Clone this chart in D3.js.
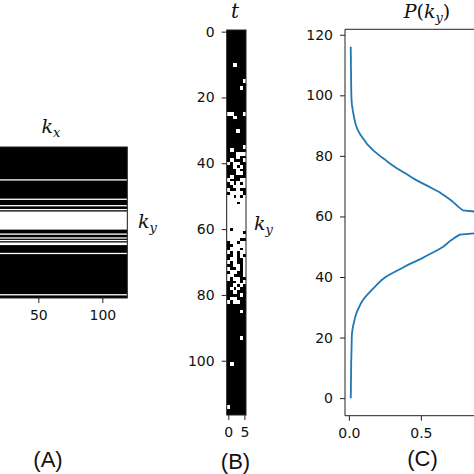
<!DOCTYPE html>
<html>
<head>
<meta charset="utf-8">
<script src="https://cdn.jsdelivr.net/npm/d3@7"></script>
<style>
html,body{margin:0;padding:0;background:#fff;}
svg{display:block;}
</style>
</head>
<body>
<svg id="chart" width="474" height="474"></svg>
<script>
// ---- data ----
// ky index 0..116
const kyCount = 117;
const kxCount = 120;
// sampling mask, one string per ky row, one char per time step t = 0..5 (1 = sampled/white)
const maskRows = [
"000000","000000","000000","000000","000000","000000","000000","000000","000000","000000", // 0-9
"001000","000000","000000","000000","000000","000001","000000","000010","000000","000000", // 10-19
"000000","000000","000000","000000","000000","110001","001000","000000","000000","000000", // 20-29
"000100","000000","000000","000000","000000","000001","010000","000111","000100","010001", // 30-39
"101100","001010","000100","000110","010000","100011","010101","001111","100100","011110", // 40-49
"110101","111111","111011","111111","111111","111111","111111","111111","111111","111111", // 50-59
"101111","111110","111111","111100","011011","001111","011101","101011","001010","011001", // 60-69
"101001","001101","100101","011001","110001","101100","000101","001010","010100","001000", // 70-79
"000010","011000","101100","000000","000000","000010","000000","000000","000000","000000", // 80-89
"000000","000000","000000","000010","000000","000000","000000","000000","000000","000000", // 90-99
"000000","010000","000000","000000","000000","000000","000000","000000","000000","000000", // 100-109
"000000","000000","000000","000000","100000","000000","000000"                             // 110-116
];
// sampling probability P(ky), ky = 0..116
const P = [
0.013,0.013,0.014,0.014,0.014,0.014,0.015,0.015,0.015,0.015,
0.016,0.016,0.016,0.017,0.017,0.018,0.018,0.019,0.019,0.020,
0.020,0.021,0.023,0.026,0.030,0.035,0.040,0.045,0.052,0.060,
0.070,0.080,0.092,0.107,0.125,0.145,0.165,0.185,0.205,0.228,
0.255,0.290,0.330,0.370,0.410,0.455,0.500,0.540,0.580,0.620,
0.655,0.680,0.705,0.735,0.770,1.000,1.000,1.000,1.000,1.000,
1.000,1.000,0.792,0.765,0.742,0.718,0.690,0.660,0.630,0.590,
0.550,0.508,0.468,0.432,0.400,0.365,0.330,0.300,0.270,0.245,
0.215,0.190,0.165,0.145,0.125,0.110,0.095,0.080,0.068,0.058,
0.050,0.044,0.039,0.035,0.031,0.027,0.024,0.021,0.019,0.018,
0.017,0.017,0.016,0.016,0.016,0.015,0.015,0.015,0.015,0.014,
0.014,0.014,0.014,0.014,0.013,0.013,0.013
];
const ticksAx = [50, 100];
const ticksBy = [0, 20, 40, 60, 80, 100];
const ticksBx = [0, 5];
const ticksCy = [0, 20, 40, 60, 80, 100, 120];
const ticksCx = [0.0, 0.5];
const panelLabels = ["(A)", "(B)", "(C)"];

// ---- drawing ----
const svg = d3.select("#chart");
const tickFont = "'DejaVu Sans', sans-serif";
const mathFont = "'DejaVu Serif', 'Liberation Serif', serif";
const spineColor = "#222";

function styleAxis(g) {
  g.select(".domain").remove();
  g.selectAll(".tick line").attr("stroke", spineColor).attr("stroke-width", 1);
  g.selectAll(".tick text").attr("font-family", tickFont).attr("font-size", 14).attr("fill", "#111");
}

function mathLabel(x, y, main, sub, anchor, pre, post) {
  const t = svg.append("text").attr("x", x).attr("y", y)
    .attr("font-family", mathFont).attr("font-style", "italic")
    .attr("font-size", 19).attr("text-anchor", anchor || "start").attr("fill", "#111");
  if (pre) t.append("tspan").text(pre);
  if (pre) t.append("tspan").attr("font-style", "normal").text("(");
  t.append("tspan").text(main);
  t.append("tspan").attr("font-size", 13).attr("dy", 4).text(sub);
  if (post) t.append("tspan").attr("dy", -4).attr("font-style", "normal").text(post);
  return t;
}

// ---------- Panel A (mask at t = 0, repeated across kx) ----------
const xA = d3.scaleLinear().domain([-0.5, kxCount - 0.5]).range([-26.3, 127.3]);
const yA = d3.scaleLinear().domain([-0.5, kyCount - 0.5]).range([147, 298]);
// group consecutive sampled rows into runs so there are no seams
const runsA = [];
maskRows.forEach((d, i) => {
  if (d[0] !== "1") return;
  const last = runsA[runsA.length - 1];
  if (last && last.end === i - 1) last.end = i; else runsA.push({start: i, end: i});
});
const gA = svg.append("g");
gA.append("rect").attr("x", xA(-0.5)).attr("y", yA(-0.5))
  .attr("width", xA(kxCount - 0.5) - xA(-0.5)).attr("height", yA(kyCount - 0.5) - yA(-0.5))
  .attr("fill", "#000");
gA.selectAll("rect.row").data(runsA).join("rect")
  .attr("class", "row")
  .attr("x", xA(-0.5))
  .attr("width", xA(kxCount - 0.5) - xA(-0.5))
  .attr("y", d => yA(d.start - 0.5))
  .attr("height", d => yA(d.end + 0.5) - yA(d.start - 0.5))
  .attr("fill", "#fff");
gA.append("rect").attr("x", xA(-0.5)).attr("y", yA(-0.5))
  .attr("width", xA(kxCount - 0.5) - xA(-0.5)).attr("height", yA(kyCount - 0.5) - yA(-0.5))
  .attr("fill", "none").attr("stroke", spineColor).attr("stroke-width", 1);
svg.append("g").attr("transform", `translate(0,${yA(kyCount - 0.5)})`)
  .call(d3.axisBottom(xA).tickValues(ticksAx).tickSize(5).tickPadding(7).tickFormat(d3.format("d")))
  .call(styleAxis);
mathLabel(51, 133, "k", "x", "middle");
mathLabel(138, 228, "k", "y", "start");

// ---------- Panel B ----------
const xB = d3.scaleLinear().domain([-0.5, 5.5]).range([226.7, 246]);
const yB = d3.scaleLinear().domain([-0.5, kyCount - 0.5]).range([30, 415]);
const cells = [];
maskRows.forEach((row, r) => { row.split("").forEach((v, c) => cells.push({r, c, v: +v})); });
const gB = svg.append("g");
gB.append("rect").attr("x", xB(-0.5)).attr("y", yB(-0.5))
  .attr("width", xB(5.5) - xB(-0.5)).attr("height", yB(kyCount - 0.5) - yB(-0.5))
  .attr("fill", "#000");
gB.selectAll("rect.cell").data(cells.filter(d => d.v)).join("rect")
  .attr("class", "cell")
  .attr("shape-rendering", "crispEdges")
  .attr("x", d => xB(d.c - 0.5))
  .attr("y", d => yB(d.r - 0.5))
  .attr("width", d => xB(d.c + 0.5) - xB(d.c - 0.5) + 0.5)
  .attr("height", d => yB(d.r + 0.5) - yB(d.r - 0.5) + 0.5)
  .attr("fill", "#fff");
gB.append("rect").attr("x", xB(-0.5)).attr("y", yB(-0.5))
  .attr("width", xB(5.5) - xB(-0.5)).attr("height", yB(kyCount - 0.5) - yB(-0.5))
  .attr("fill", "none").attr("stroke", spineColor).attr("stroke-width", 1);
svg.append("g").attr("transform", `translate(${xB(-0.5)},0)`)
  .call(d3.axisLeft(yB).tickValues(ticksBy).tickSize(5).tickPadding(7).tickFormat(d3.format("d")))
  .call(styleAxis);
svg.append("g").attr("transform", `translate(0,${yB(kyCount - 0.5)})`)
  .call(d3.axisBottom(xB).tickValues(ticksBx).tickSize(5).tickPadding(7).tickFormat(d3.format("d")))
  .call(styleAxis);
svg.append("text").attr("x", 235).attr("y", 18).attr("text-anchor", "middle")
  .attr("font-family", mathFont).attr("font-style", "italic").attr("font-size", 20).attr("fill", "#111").text("t");
mathLabel(254, 230, "k", "y", "start");

// ---------- Panel C ----------
const xC = d3.scaleLinear().domain([-0.027, 1.05]).range([345, 345 + 1.077 * 144]);
const yC = d3.scaleLinear().domain([-5.8, 121.8]).range([415.7, 29.3]);
const gC = svg.append("g");
gC.append("line").attr("x1", xC(-0.027)).attr("x2", xC(-0.027)).attr("y1", yC(-5.8)).attr("y2", yC(121.8))
  .attr("stroke", spineColor).attr("stroke-width", 1);
gC.append("line").attr("x1", xC(-0.027)).attr("x2", xC(1.05)).attr("y1", yC(-5.8)).attr("y2", yC(-5.8))
  .attr("stroke", spineColor).attr("stroke-width", 1);
gC.append("line").attr("x1", xC(-0.027)).attr("x2", xC(1.05)).attr("y1", yC(121.8)).attr("y2", yC(121.8))
  .attr("stroke", spineColor).attr("stroke-width", 1);
svg.append("g").attr("transform", `translate(${xC(-0.027)},0)`)
  .call(d3.axisLeft(yC).tickValues(ticksCy).tickSize(5).tickPadding(7).tickFormat(d3.format("d")))
  .call(styleAxis);
svg.append("g").attr("transform", `translate(0,${yC(-5.8)})`)
  .call(d3.axisBottom(xC).tickValues(ticksCx).tickSize(5).tickPadding(7).tickFormat(d3.format(".1f")))
  .call(styleAxis);
const line = d3.line().x(d => xC(d)).y((d, i) => yC(i));
gC.append("path").datum(P).attr("d", line)
  .attr("fill", "none").attr("stroke", "#1f77b4").attr("stroke-width", 1.8).attr("stroke-linejoin", "round");
mathLabel(427, 18, "k", "y", "middle", "P", ")");

// ---------- panel letters ----------
const letterX = [48, 235.5, 422.5];
const letterY = [467, 469, 466];
svg.selectAll("text.panel").data(panelLabels).join("text")
  .attr("class", "panel")
  .attr("x", (d, i) => letterX[i]).attr("y", (d, i) => letterY[i])
  .attr("text-anchor", "middle")
  .attr("font-family", "'Liberation Sans', Arial, sans-serif").attr("font-size", 22).attr("fill", "#111")
  .text(d => d);
</script>
</body>
</html>
